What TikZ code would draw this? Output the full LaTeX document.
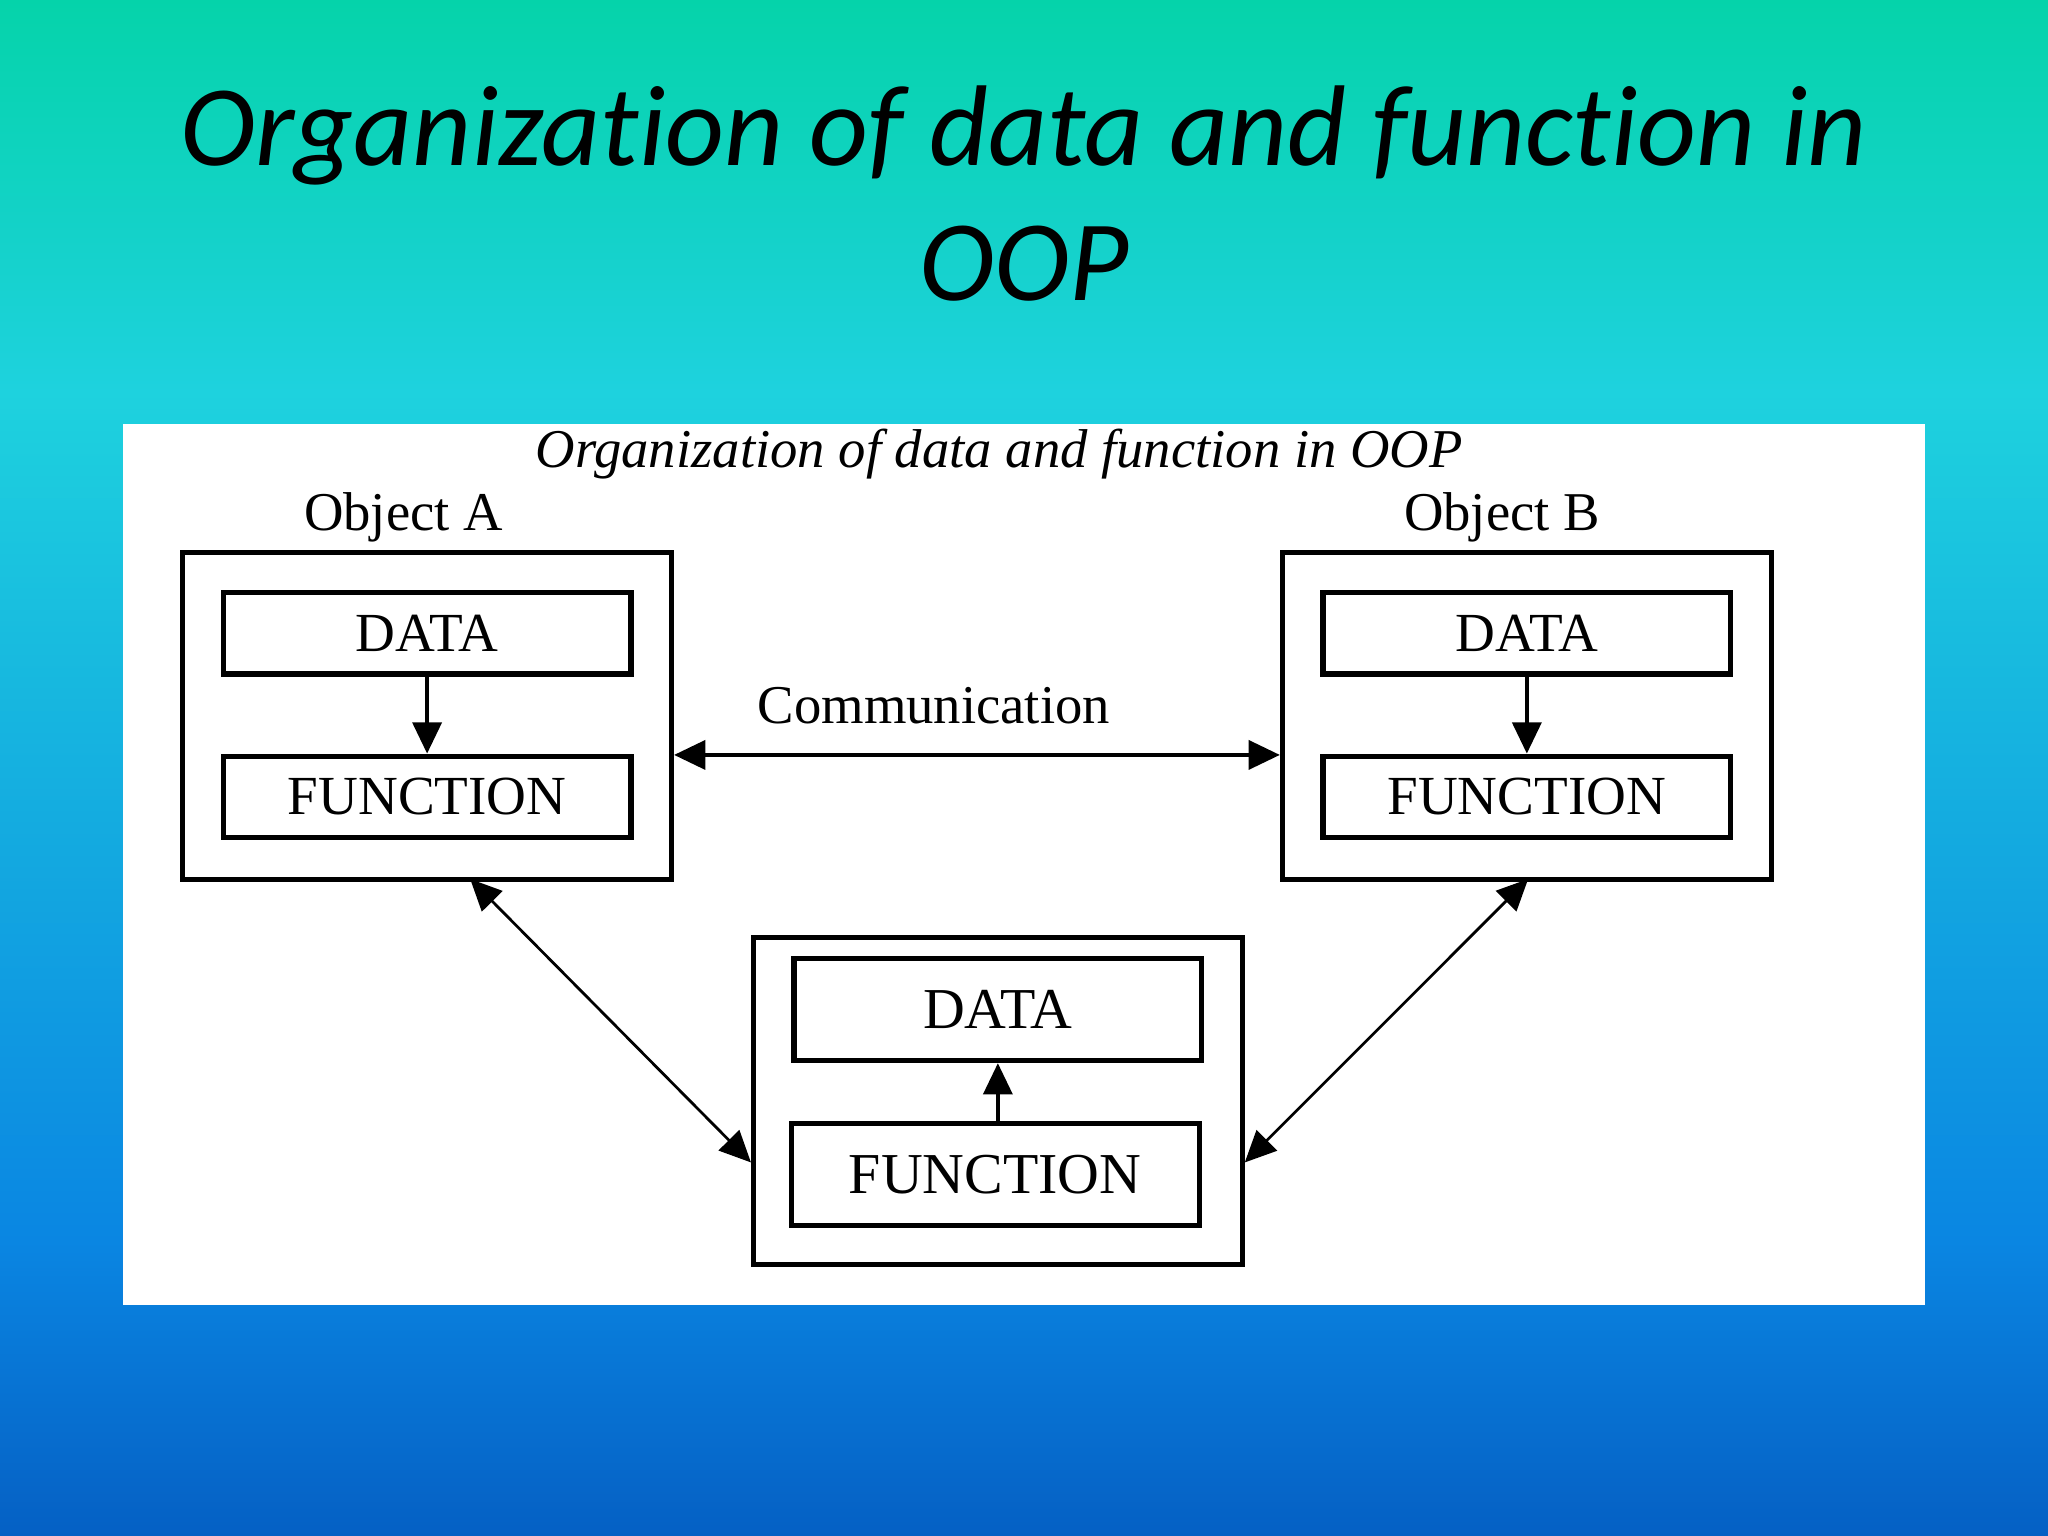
\documentclass[tikz,border=0pt]{standalone}
\usepackage{fontspec}
\setmainfont{Liberation Serif}
\newfontfamily\titlefont[Ligatures=NoCommon]{Carlito}
\usetikzlibrary{positioning, arrows.meta}
\definecolor{topteal}{HTML}{05D3AA}
\definecolor{midcyan}{HTML}{1ED2DE}
\definecolor{lowblue}{HTML}{0A86E2}
\definecolor{botblue}{HTML}{0560C4}
\tikzset{
  outerbox/.style={draw, line width=1.1pt, minimum width=3.74cm, minimum height=2.5cm},
  innerbox/.style={draw, line width=1.1pt, minimum width=3.12cm, minimum height=0.62cm, font=\fontsize{12}{12}\selectfont},
  bigbox/.style={innerbox, minimum height=0.78cm, font=\fontsize{12.6}{13}\selectfont},
  lbl/.style={font=\fontsize{11.9}{12}\selectfont},
  tip/.style={-{Triangle[length=2.4mm, width=2.2mm]}, line width=1pt},
  dbltip/.style={{Triangle[length=2.4mm, width=2.2mm]}-{Triangle[length=2.4mm, width=2.2mm]}}
}
\begin{document}
\begin{tikzpicture}[x=0.01cm, y=-0.01cm]
% background
\shade[top color=topteal, bottom color=midcyan] (0,0) rectangle (1568,300);
\shade[top color=midcyan, bottom color=lowblue] (0,300) rectangle (1568,950);
\shade[top color=lowblue, bottom color=botblue] (0,950) rectangle (1568,1176);
\useasboundingbox (0,0) rectangle (1568,1176);

% slide title
\node[font=\titlefont\itshape\fontsize{25}{29.5}\selectfont, align=center] (title) at (784,148)
  {Organization of data and function in\\OOP};

% white panel
\fill[white] (94,325) rectangle (1474,999);
\node[font=\itshape\fontsize{11.9}{12}\selectfont] (caption) at (765,348) {Organization of data and function in OOP};

% object A
\node[outerbox] (objA) at (327,548) {};
\node[lbl] (labA) at (309,396) {Object A};
\node[innerbox] (dataA) at (327,485) {DATA};
\node[innerbox] (funcA) at (327,610) {FUNCTION};
\draw[tip] (dataA) -- (funcA);

% object B
\node[outerbox] (objB) at (1169,548) {};
\node[lbl] (labB) at (1150,396) {Object B};
\node[innerbox] (dataB) at (1169,485) {DATA};
\node[innerbox] (funcB) at (1169,610) {FUNCTION};
\draw[tip] (dataB) -- (funcB);

% object C
\node[outerbox] (objC) at (764,843) {};
\node[bigbox] (dataC) at (764,773) {DATA};
\node[bigbox] (funcC) at (762,899) {FUNCTION};
\draw[tip] (funcC.north -| dataC) -- (dataC);

% communication
\draw[dbltip, line width=1pt] (objA.east |- 0,578) -- (objB.west |- 0,578);
\node[lbl] (comm) at (715,540) {Communication};
\coordinate (cA) at (360,673);
\coordinate (cB) at (1170,673);
\draw[dbltip, line width=0.6pt] (cA) -- (objC.west |- 0,890);
\draw[dbltip, line width=0.6pt] (cB) -- (objC.east |- 0,890);
\end{tikzpicture}
\end{document}
